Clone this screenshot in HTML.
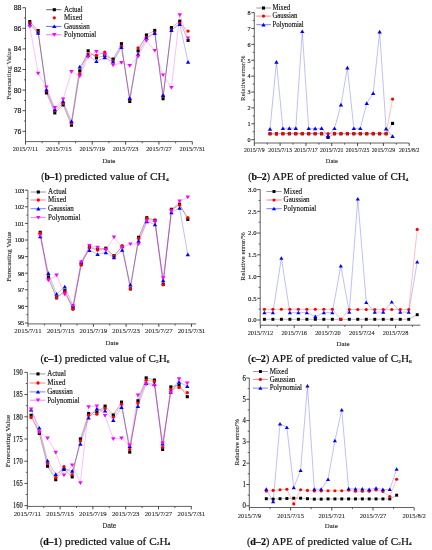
<!DOCTYPE html>
<html><head><meta charset="utf-8"><style>
html,body{margin:0;padding:0;background:#fff;width:432px;height:550px;overflow:hidden}
svg{display:block;filter:blur(0.35px)}
.t{stroke:#111;stroke-width:0.15px}
.c{stroke:#111;stroke-width:0.2px}
.t2{stroke:#222;stroke-width:0.1px}
.t3{stroke:#333;stroke-width:0.15px}
</style></head><body>
<svg width="432" height="550" viewBox="0 0 432 550">
<polyline points="29.80,21.60 38.13,30.60 46.46,92.90 54.79,112.90 63.12,104.90 71.45,125.20 79.78,70.80 88.11,50.80 96.44,57.90 104.77,55.60 113.10,59.10 121.43,43.70 129.76,101.50 138.09,50.80 146.42,35.00 154.75,30.40 163.08,98.70 171.41,27.60 179.74,21.20 188.07,40.40" fill="none" stroke="#000" stroke-width="0.5" stroke-opacity="0.5"/>
<polyline points="29.80,23.20 38.13,32.20 46.46,91.00 54.79,110.80 63.12,103.40 71.45,123.50 79.78,73.70 88.11,54.10 96.44,55.30 104.77,52.10 113.10,61.00 121.43,46.20 129.76,99.00 138.09,47.80 146.42,37.20 154.75,33.00 163.08,96.00 171.41,29.80 179.74,23.50 188.07,31.10" fill="none" stroke="#ff0000" stroke-width="0.5" stroke-opacity="0.5"/>
<polyline points="29.80,24.50 38.13,33.00 46.46,89.70 54.79,109.50 63.12,101.40 71.45,121.30 79.78,66.80 88.11,55.30 96.44,61.40 104.77,57.60 113.10,61.90 121.43,47.20 129.76,98.20 138.09,54.30 146.42,38.00 154.75,33.40 163.08,95.20 171.41,30.40 179.74,24.20 188.07,62.10" fill="none" stroke="#0000ff" stroke-width="0.5" stroke-opacity="0.5"/>
<polyline points="29.80,26.40 38.13,73.40 46.46,87.10 54.79,107.70 63.12,99.30 71.45,71.70 79.78,76.30 88.11,57.00 96.44,51.80 104.77,54.70 113.10,65.30 121.43,62.80 129.76,65.70 138.09,56.60 146.42,40.80 154.75,50.60 163.08,75.10 171.41,87.60 179.74,15.00 188.07,38.10" fill="none" stroke="#ff00ff" stroke-width="0.5" stroke-opacity="0.5"/>
<rect x="28.25" y="20.05" width="3.10" height="3.10" fill="#000"/>
<rect x="36.58" y="29.05" width="3.10" height="3.10" fill="#000"/>
<rect x="44.91" y="91.35" width="3.10" height="3.10" fill="#000"/>
<rect x="53.24" y="111.35" width="3.10" height="3.10" fill="#000"/>
<rect x="61.57" y="103.35" width="3.10" height="3.10" fill="#000"/>
<rect x="69.90" y="123.65" width="3.10" height="3.10" fill="#000"/>
<rect x="78.23" y="69.25" width="3.10" height="3.10" fill="#000"/>
<rect x="86.56" y="49.25" width="3.10" height="3.10" fill="#000"/>
<rect x="94.89" y="56.35" width="3.10" height="3.10" fill="#000"/>
<rect x="103.22" y="54.05" width="3.10" height="3.10" fill="#000"/>
<rect x="111.55" y="57.55" width="3.10" height="3.10" fill="#000"/>
<rect x="119.88" y="42.15" width="3.10" height="3.10" fill="#000"/>
<rect x="128.21" y="99.95" width="3.10" height="3.10" fill="#000"/>
<rect x="136.54" y="49.25" width="3.10" height="3.10" fill="#000"/>
<rect x="144.87" y="33.45" width="3.10" height="3.10" fill="#000"/>
<rect x="153.20" y="28.85" width="3.10" height="3.10" fill="#000"/>
<rect x="161.53" y="97.15" width="3.10" height="3.10" fill="#000"/>
<rect x="169.86" y="26.05" width="3.10" height="3.10" fill="#000"/>
<rect x="178.19" y="19.65" width="3.10" height="3.10" fill="#000"/>
<rect x="186.52" y="38.85" width="3.10" height="3.10" fill="#000"/>
<circle cx="29.80" cy="23.20" r="1.65" fill="#ff0000"/>
<circle cx="38.13" cy="32.20" r="1.65" fill="#ff0000"/>
<circle cx="46.46" cy="91.00" r="1.65" fill="#ff0000"/>
<circle cx="54.79" cy="110.80" r="1.65" fill="#ff0000"/>
<circle cx="63.12" cy="103.40" r="1.65" fill="#ff0000"/>
<circle cx="71.45" cy="123.50" r="1.65" fill="#ff0000"/>
<circle cx="79.78" cy="73.70" r="1.65" fill="#ff0000"/>
<circle cx="88.11" cy="54.10" r="1.65" fill="#ff0000"/>
<circle cx="96.44" cy="55.30" r="1.65" fill="#ff0000"/>
<circle cx="104.77" cy="52.10" r="1.65" fill="#ff0000"/>
<circle cx="113.10" cy="61.00" r="1.65" fill="#ff0000"/>
<circle cx="121.43" cy="46.20" r="1.65" fill="#ff0000"/>
<circle cx="129.76" cy="99.00" r="1.65" fill="#ff0000"/>
<circle cx="138.09" cy="47.80" r="1.65" fill="#ff0000"/>
<circle cx="146.42" cy="37.20" r="1.65" fill="#ff0000"/>
<circle cx="154.75" cy="33.00" r="1.65" fill="#ff0000"/>
<circle cx="163.08" cy="96.00" r="1.65" fill="#ff0000"/>
<circle cx="171.41" cy="29.80" r="1.65" fill="#ff0000"/>
<circle cx="179.74" cy="23.50" r="1.65" fill="#ff0000"/>
<circle cx="188.07" cy="31.10" r="1.65" fill="#ff0000"/>
<path d="M29.80 22.50L32.00 26.20L27.60 26.20Z" fill="#0000ff"/>
<path d="M38.13 31.00L40.33 34.70L35.93 34.70Z" fill="#0000ff"/>
<path d="M46.46 87.70L48.66 91.40L44.26 91.40Z" fill="#0000ff"/>
<path d="M54.79 107.50L56.99 111.20L52.59 111.20Z" fill="#0000ff"/>
<path d="M63.12 99.40L65.32 103.10L60.92 103.10Z" fill="#0000ff"/>
<path d="M71.45 119.30L73.65 123.00L69.25 123.00Z" fill="#0000ff"/>
<path d="M79.78 64.80L81.98 68.50L77.58 68.50Z" fill="#0000ff"/>
<path d="M88.11 53.30L90.31 57.00L85.91 57.00Z" fill="#0000ff"/>
<path d="M96.44 59.40L98.64 63.10L94.24 63.10Z" fill="#0000ff"/>
<path d="M104.77 55.60L106.97 59.30L102.57 59.30Z" fill="#0000ff"/>
<path d="M113.10 59.90L115.30 63.60L110.90 63.60Z" fill="#0000ff"/>
<path d="M121.43 45.20L123.63 48.90L119.23 48.90Z" fill="#0000ff"/>
<path d="M129.76 96.20L131.96 99.90L127.56 99.90Z" fill="#0000ff"/>
<path d="M138.09 52.30L140.29 56.00L135.89 56.00Z" fill="#0000ff"/>
<path d="M146.42 36.00L148.62 39.70L144.22 39.70Z" fill="#0000ff"/>
<path d="M154.75 31.40L156.95 35.10L152.55 35.10Z" fill="#0000ff"/>
<path d="M163.08 93.20L165.28 96.90L160.88 96.90Z" fill="#0000ff"/>
<path d="M171.41 28.40L173.61 32.10L169.21 32.10Z" fill="#0000ff"/>
<path d="M179.74 22.20L181.94 25.90L177.54 25.90Z" fill="#0000ff"/>
<path d="M188.07 60.10L190.27 63.80L185.87 63.80Z" fill="#0000ff"/>
<path d="M29.80 28.40L32.00 24.70L27.60 24.70Z" fill="#ff00ff"/>
<path d="M38.13 75.40L40.33 71.70L35.93 71.70Z" fill="#ff00ff"/>
<path d="M46.46 89.10L48.66 85.40L44.26 85.40Z" fill="#ff00ff"/>
<path d="M54.79 109.70L56.99 106.00L52.59 106.00Z" fill="#ff00ff"/>
<path d="M63.12 101.30L65.32 97.60L60.92 97.60Z" fill="#ff00ff"/>
<path d="M71.45 73.70L73.65 70.00L69.25 70.00Z" fill="#ff00ff"/>
<path d="M79.78 78.30L81.98 74.60L77.58 74.60Z" fill="#ff00ff"/>
<path d="M88.11 59.00L90.31 55.30L85.91 55.30Z" fill="#ff00ff"/>
<path d="M96.44 53.80L98.64 50.10L94.24 50.10Z" fill="#ff00ff"/>
<path d="M104.77 56.70L106.97 53.00L102.57 53.00Z" fill="#ff00ff"/>
<path d="M113.10 67.30L115.30 63.60L110.90 63.60Z" fill="#ff00ff"/>
<path d="M121.43 64.80L123.63 61.10L119.23 61.10Z" fill="#ff00ff"/>
<path d="M129.76 67.70L131.96 64.00L127.56 64.00Z" fill="#ff00ff"/>
<path d="M138.09 58.60L140.29 54.90L135.89 54.90Z" fill="#ff00ff"/>
<path d="M146.42 42.80L148.62 39.10L144.22 39.10Z" fill="#ff00ff"/>
<path d="M154.75 52.60L156.95 48.90L152.55 48.90Z" fill="#ff00ff"/>
<path d="M163.08 77.10L165.28 73.40L160.88 73.40Z" fill="#ff00ff"/>
<path d="M171.41 89.60L173.61 85.90L169.21 85.90Z" fill="#ff00ff"/>
<path d="M179.74 17.00L181.94 13.30L177.54 13.30Z" fill="#ff00ff"/>
<path d="M188.07 40.10L190.27 36.40L185.87 36.40Z" fill="#ff00ff"/>
<path d="M25.5 7.7V141.6H192.3" fill="none" stroke="#3a3a3a" stroke-width="0.8"/>
<path d="M22.5 131.30H25.5" stroke="#222" stroke-width="0.8"/>
<text x="21.5" y="133.80" text-anchor="end" font-family="'Liberation Sans', sans-serif" font-size="7" fill="#111" class="t">76</text>
<path d="M22.5 110.70H25.5" stroke="#222" stroke-width="0.8"/>
<text x="21.5" y="113.20" text-anchor="end" font-family="'Liberation Sans', sans-serif" font-size="7" fill="#111" class="t">78</text>
<path d="M22.5 90.10H25.5" stroke="#222" stroke-width="0.8"/>
<text x="21.5" y="92.60" text-anchor="end" font-family="'Liberation Sans', sans-serif" font-size="7" fill="#111" class="t">80</text>
<path d="M22.5 69.50H25.5" stroke="#222" stroke-width="0.8"/>
<text x="21.5" y="72.00" text-anchor="end" font-family="'Liberation Sans', sans-serif" font-size="7" fill="#111" class="t">82</text>
<path d="M22.5 48.90H25.5" stroke="#222" stroke-width="0.8"/>
<text x="21.5" y="51.40" text-anchor="end" font-family="'Liberation Sans', sans-serif" font-size="7" fill="#111" class="t">84</text>
<path d="M22.5 28.30H25.5" stroke="#222" stroke-width="0.8"/>
<text x="21.5" y="30.80" text-anchor="end" font-family="'Liberation Sans', sans-serif" font-size="7" fill="#111" class="t">86</text>
<path d="M22.5 7.70H25.5" stroke="#222" stroke-width="0.8"/>
<text x="21.5" y="10.20" text-anchor="end" font-family="'Liberation Sans', sans-serif" font-size="7" fill="#111" class="t">88</text>
<path d="M23.9 121.00H25.5" stroke="#222" stroke-width="0.7"/>
<path d="M23.9 100.40H25.5" stroke="#222" stroke-width="0.7"/>
<path d="M23.9 79.80H25.5" stroke="#222" stroke-width="0.7"/>
<path d="M23.9 59.20H25.5" stroke="#222" stroke-width="0.7"/>
<path d="M23.9 38.60H25.5" stroke="#222" stroke-width="0.7"/>
<path d="M23.9 18.00H25.5" stroke="#222" stroke-width="0.7"/>
<path d="M25.50 141.6V144.6" stroke="#222" stroke-width="0.8"/>
<text x="25.50" y="151.4" text-anchor="middle" font-family="'Liberation Serif', serif" font-size="6.3" fill="#222" class="t2">2015/7/11</text>
<path d="M58.86 141.6V144.6" stroke="#222" stroke-width="0.8"/>
<text x="58.86" y="151.4" text-anchor="middle" font-family="'Liberation Serif', serif" font-size="6.3" fill="#222" class="t2">2015/7/15</text>
<path d="M92.22 141.6V144.6" stroke="#222" stroke-width="0.8"/>
<text x="92.22" y="151.4" text-anchor="middle" font-family="'Liberation Serif', serif" font-size="6.3" fill="#222" class="t2">2015/7/19</text>
<path d="M125.58 141.6V144.6" stroke="#222" stroke-width="0.8"/>
<text x="125.58" y="151.4" text-anchor="middle" font-family="'Liberation Serif', serif" font-size="6.3" fill="#222" class="t2">2015/7/23</text>
<path d="M158.94 141.6V144.6" stroke="#222" stroke-width="0.8"/>
<text x="158.94" y="151.4" text-anchor="middle" font-family="'Liberation Serif', serif" font-size="6.3" fill="#222" class="t2">2015/7/27</text>
<path d="M192.30 141.6V144.6" stroke="#222" stroke-width="0.8"/>
<text x="192.30" y="151.4" text-anchor="middle" font-family="'Liberation Serif', serif" font-size="6.3" fill="#222" class="t2">2015/7/31</text>
<path d="M42.18 141.6V143.29999999999998" stroke="#222" stroke-width="0.7"/>
<path d="M75.54 141.6V143.29999999999998" stroke="#222" stroke-width="0.7"/>
<path d="M108.90 141.6V143.29999999999998" stroke="#222" stroke-width="0.7"/>
<path d="M142.26 141.6V143.29999999999998" stroke="#222" stroke-width="0.7"/>
<path d="M175.62 141.6V143.29999999999998" stroke="#222" stroke-width="0.7"/>
<text x="108.9" y="162.5" text-anchor="middle" font-family="'Liberation Serif', serif" font-size="6.9" fill="#222" class="t2">Date</text>
<text transform="translate(10.5,74.0) rotate(-90)" text-anchor="middle" font-family="'Liberation Serif', serif" font-size="6.9" fill="#555" class="t3" textLength="51.5" lengthAdjust="spacingAndGlyphs">Forecasting Value</text>
<path d="M46.2 9.7H61.4" stroke="#000" stroke-width="0.6"/>
<rect x="52.75" y="8.15" width="3.10" height="3.10" fill="#000"/>
<text x="64" y="12.1" font-family="'Liberation Serif', serif" font-size="7.56" fill="#111" class="t" textLength="18.66" lengthAdjust="spacingAndGlyphs">Actual</text>
<circle cx="54.30" cy="17.80" r="1.65" fill="#ff0000"/>
<text x="64" y="20.2" font-family="'Liberation Serif', serif" font-size="7.56" fill="#111" class="t" textLength="18.28" lengthAdjust="spacingAndGlyphs">Mixed</text>
<path d="M46.2 26.4H61.4" stroke="#0000ff" stroke-width="0.6"/>
<path d="M54.30 24.40L56.50 28.10L52.10 28.10Z" fill="#0000ff"/>
<text x="64" y="28.799999999999997" font-family="'Liberation Serif', serif" font-size="7.56" fill="#111" class="t" textLength="25.66" lengthAdjust="spacingAndGlyphs">Gaussian</text>
<path d="M46.2 34.8H61.4" stroke="#ff00ff" stroke-width="0.6"/>
<path d="M54.30 36.80L56.50 33.10L52.10 33.10Z" fill="#ff00ff"/>
<text x="64" y="37.199999999999996" font-family="'Liberation Serif', serif" font-size="7.56" fill="#111" class="t" textLength="32.28" lengthAdjust="spacingAndGlyphs">Polynomial</text>
<text x="41.3" y="180.2" font-family="'Liberation Serif', serif" font-size="10.6" fill="#111" class="c" textLength="20.6" lengthAdjust="spacingAndGlyphs">(<tspan font-weight="bold">b–1</tspan>)</text>
<text x="64.3" y="180.2" font-family="'Liberation Serif', serif" font-size="10.6" fill="#111" class="c" textLength="104.3" lengthAdjust="spacingAndGlyphs">predicted value of CH<tspan font-size="5" dy="0.6">4</tspan></text>
<polyline points="270.00,133.80 276.45,133.80 282.90,133.80 289.35,133.80 295.80,133.80 302.25,133.80 308.70,133.80 315.15,133.80 321.60,133.80 328.05,137.40 334.50,133.80 340.95,133.80 347.40,133.80 353.85,133.80 360.30,133.80 366.75,133.80 373.20,133.80 379.65,133.80 386.10,133.80 392.55,123.40" fill="none" stroke="#000" stroke-width="0.5" stroke-opacity="0.5"/>
<polyline points="270.00,133.70 276.45,134.00 282.90,133.50 289.35,133.40 295.80,133.50 302.25,133.40 308.70,133.60 315.15,133.60 321.60,133.50 328.05,133.60 334.50,133.50 340.95,133.60 347.40,133.40 353.85,133.60 360.30,133.60 366.75,133.60 373.20,133.50 379.65,133.60 386.10,133.60 392.55,99.10" fill="none" stroke="#ff0000" stroke-width="0.5" stroke-opacity="0.5"/>
<polyline points="270.00,129.10 276.45,62.00 282.90,128.40 289.35,128.20 295.80,128.20 302.25,31.40 308.70,128.40 315.15,128.60 321.60,128.20 328.05,136.10 334.50,128.40 340.95,104.80 347.40,67.70 353.85,128.40 360.30,128.40 366.75,103.20 373.20,93.20 379.65,31.80 386.10,128.70 392.55,136.30" fill="none" stroke="#0000ff" stroke-width="0.5" stroke-opacity="0.5"/>
<rect x="268.45" y="132.25" width="3.10" height="3.10" fill="#000"/>
<rect x="274.90" y="132.25" width="3.10" height="3.10" fill="#000"/>
<rect x="281.35" y="132.25" width="3.10" height="3.10" fill="#000"/>
<rect x="287.80" y="132.25" width="3.10" height="3.10" fill="#000"/>
<rect x="294.25" y="132.25" width="3.10" height="3.10" fill="#000"/>
<rect x="300.70" y="132.25" width="3.10" height="3.10" fill="#000"/>
<rect x="307.15" y="132.25" width="3.10" height="3.10" fill="#000"/>
<rect x="313.60" y="132.25" width="3.10" height="3.10" fill="#000"/>
<rect x="320.05" y="132.25" width="3.10" height="3.10" fill="#000"/>
<rect x="326.50" y="135.85" width="3.10" height="3.10" fill="#000"/>
<rect x="332.95" y="132.25" width="3.10" height="3.10" fill="#000"/>
<rect x="339.40" y="132.25" width="3.10" height="3.10" fill="#000"/>
<rect x="345.85" y="132.25" width="3.10" height="3.10" fill="#000"/>
<rect x="352.30" y="132.25" width="3.10" height="3.10" fill="#000"/>
<rect x="358.75" y="132.25" width="3.10" height="3.10" fill="#000"/>
<rect x="365.20" y="132.25" width="3.10" height="3.10" fill="#000"/>
<rect x="371.65" y="132.25" width="3.10" height="3.10" fill="#000"/>
<rect x="378.10" y="132.25" width="3.10" height="3.10" fill="#000"/>
<rect x="384.55" y="132.25" width="3.10" height="3.10" fill="#000"/>
<rect x="391.00" y="121.85" width="3.10" height="3.10" fill="#000"/>
<circle cx="270.00" cy="133.70" r="1.65" fill="#ff0000"/>
<circle cx="276.45" cy="134.00" r="1.65" fill="#ff0000"/>
<circle cx="282.90" cy="133.50" r="1.65" fill="#ff0000"/>
<circle cx="289.35" cy="133.40" r="1.65" fill="#ff0000"/>
<circle cx="295.80" cy="133.50" r="1.65" fill="#ff0000"/>
<circle cx="302.25" cy="133.40" r="1.65" fill="#ff0000"/>
<circle cx="308.70" cy="133.60" r="1.65" fill="#ff0000"/>
<circle cx="315.15" cy="133.60" r="1.65" fill="#ff0000"/>
<circle cx="321.60" cy="133.50" r="1.65" fill="#ff0000"/>
<circle cx="328.05" cy="133.60" r="1.65" fill="#ff0000"/>
<circle cx="334.50" cy="133.50" r="1.65" fill="#ff0000"/>
<circle cx="340.95" cy="133.60" r="1.65" fill="#ff0000"/>
<circle cx="347.40" cy="133.40" r="1.65" fill="#ff0000"/>
<circle cx="353.85" cy="133.60" r="1.65" fill="#ff0000"/>
<circle cx="360.30" cy="133.60" r="1.65" fill="#ff0000"/>
<circle cx="366.75" cy="133.60" r="1.65" fill="#ff0000"/>
<circle cx="373.20" cy="133.50" r="1.65" fill="#ff0000"/>
<circle cx="379.65" cy="133.60" r="1.65" fill="#ff0000"/>
<circle cx="386.10" cy="133.60" r="1.65" fill="#ff0000"/>
<circle cx="392.55" cy="99.10" r="1.65" fill="#ff0000"/>
<path d="M270.00 127.10L272.20 130.80L267.80 130.80Z" fill="#0000ff"/>
<path d="M276.45 60.00L278.65 63.70L274.25 63.70Z" fill="#0000ff"/>
<path d="M282.90 126.40L285.10 130.10L280.70 130.10Z" fill="#0000ff"/>
<path d="M289.35 126.20L291.55 129.90L287.15 129.90Z" fill="#0000ff"/>
<path d="M295.80 126.20L298.00 129.90L293.60 129.90Z" fill="#0000ff"/>
<path d="M302.25 29.40L304.45 33.10L300.05 33.10Z" fill="#0000ff"/>
<path d="M308.70 126.40L310.90 130.10L306.50 130.10Z" fill="#0000ff"/>
<path d="M315.15 126.60L317.35 130.30L312.95 130.30Z" fill="#0000ff"/>
<path d="M321.60 126.20L323.80 129.90L319.40 129.90Z" fill="#0000ff"/>
<path d="M328.05 134.10L330.25 137.80L325.85 137.80Z" fill="#0000ff"/>
<path d="M334.50 126.40L336.70 130.10L332.30 130.10Z" fill="#0000ff"/>
<path d="M340.95 102.80L343.15 106.50L338.75 106.50Z" fill="#0000ff"/>
<path d="M347.40 65.70L349.60 69.40L345.20 69.40Z" fill="#0000ff"/>
<path d="M353.85 126.40L356.05 130.10L351.65 130.10Z" fill="#0000ff"/>
<path d="M360.30 126.40L362.50 130.10L358.10 130.10Z" fill="#0000ff"/>
<path d="M366.75 101.20L368.95 104.90L364.55 104.90Z" fill="#0000ff"/>
<path d="M373.20 91.20L375.40 94.90L371.00 94.90Z" fill="#0000ff"/>
<path d="M379.65 29.80L381.85 33.50L377.45 33.50Z" fill="#0000ff"/>
<path d="M386.10 126.70L388.30 130.40L383.90 130.40Z" fill="#0000ff"/>
<path d="M392.55 134.30L394.75 138.00L390.35 138.00Z" fill="#0000ff"/>
<path d="M254.3 12.6V143.0H409.2" fill="none" stroke="#3a3a3a" stroke-width="0.8"/>
<path d="M251.3 139.70H254.3" stroke="#222" stroke-width="0.8"/>
<text x="250.5" y="142.00" text-anchor="end" font-family="'Liberation Serif', serif" font-size="6.8" fill="#111" class="t" textLength="3.10" lengthAdjust="spacingAndGlyphs">0</text>
<path d="M251.3 123.81H254.3" stroke="#222" stroke-width="0.8"/>
<text x="250.5" y="126.11" text-anchor="end" font-family="'Liberation Serif', serif" font-size="6.8" fill="#111" class="t" textLength="3.10" lengthAdjust="spacingAndGlyphs">1</text>
<path d="M251.3 107.92H254.3" stroke="#222" stroke-width="0.8"/>
<text x="250.5" y="110.22" text-anchor="end" font-family="'Liberation Serif', serif" font-size="6.8" fill="#111" class="t" textLength="3.10" lengthAdjust="spacingAndGlyphs">2</text>
<path d="M251.3 92.04H254.3" stroke="#222" stroke-width="0.8"/>
<text x="250.5" y="94.34" text-anchor="end" font-family="'Liberation Serif', serif" font-size="6.8" fill="#111" class="t" textLength="3.10" lengthAdjust="spacingAndGlyphs">3</text>
<path d="M251.3 76.15H254.3" stroke="#222" stroke-width="0.8"/>
<text x="250.5" y="78.45" text-anchor="end" font-family="'Liberation Serif', serif" font-size="6.8" fill="#111" class="t" textLength="3.10" lengthAdjust="spacingAndGlyphs">4</text>
<path d="M251.3 60.26H254.3" stroke="#222" stroke-width="0.8"/>
<text x="250.5" y="62.56" text-anchor="end" font-family="'Liberation Serif', serif" font-size="6.8" fill="#111" class="t" textLength="3.10" lengthAdjust="spacingAndGlyphs">5</text>
<path d="M251.3 44.38H254.3" stroke="#222" stroke-width="0.8"/>
<text x="250.5" y="46.67" text-anchor="end" font-family="'Liberation Serif', serif" font-size="6.8" fill="#111" class="t" textLength="3.10" lengthAdjust="spacingAndGlyphs">6</text>
<path d="M251.3 28.49H254.3" stroke="#222" stroke-width="0.8"/>
<text x="250.5" y="30.79" text-anchor="end" font-family="'Liberation Serif', serif" font-size="6.8" fill="#111" class="t" textLength="3.10" lengthAdjust="spacingAndGlyphs">7</text>
<path d="M251.3 12.60H254.3" stroke="#222" stroke-width="0.8"/>
<text x="250.5" y="14.90" text-anchor="end" font-family="'Liberation Serif', serif" font-size="6.8" fill="#111" class="t" textLength="3.10" lengthAdjust="spacingAndGlyphs">8</text>
<path d="M252.70000000000002 131.76H254.3" stroke="#222" stroke-width="0.7"/>
<path d="M252.70000000000002 115.87H254.3" stroke="#222" stroke-width="0.7"/>
<path d="M252.70000000000002 99.98H254.3" stroke="#222" stroke-width="0.7"/>
<path d="M252.70000000000002 84.09H254.3" stroke="#222" stroke-width="0.7"/>
<path d="M252.70000000000002 68.21H254.3" stroke="#222" stroke-width="0.7"/>
<path d="M252.70000000000002 52.32H254.3" stroke="#222" stroke-width="0.7"/>
<path d="M252.70000000000002 36.43H254.3" stroke="#222" stroke-width="0.7"/>
<path d="M252.70000000000002 20.54H254.3" stroke="#222" stroke-width="0.7"/>
<path d="M254.30 143.0V146.0" stroke="#222" stroke-width="0.8"/>
<text x="254.30" y="152.4" text-anchor="middle" font-family="'Liberation Serif', serif" font-size="5.8" fill="#222" class="t2">2015/7/9</text>
<path d="M280.12 143.0V146.0" stroke="#222" stroke-width="0.8"/>
<text x="280.12" y="152.4" text-anchor="middle" font-family="'Liberation Serif', serif" font-size="5.8" fill="#222" class="t2">2015/7/13</text>
<path d="M305.94 143.0V146.0" stroke="#222" stroke-width="0.8"/>
<text x="305.94" y="152.4" text-anchor="middle" font-family="'Liberation Serif', serif" font-size="5.8" fill="#222" class="t2">2015/7/17</text>
<path d="M331.76 143.0V146.0" stroke="#222" stroke-width="0.8"/>
<text x="331.76" y="152.4" text-anchor="middle" font-family="'Liberation Serif', serif" font-size="5.8" fill="#222" class="t2">2015/7/21</text>
<path d="M357.58 143.0V146.0" stroke="#222" stroke-width="0.8"/>
<text x="357.58" y="152.4" text-anchor="middle" font-family="'Liberation Serif', serif" font-size="5.8" fill="#222" class="t2">2015/7/25</text>
<path d="M383.40 143.0V146.0" stroke="#222" stroke-width="0.8"/>
<text x="383.40" y="152.4" text-anchor="middle" font-family="'Liberation Serif', serif" font-size="5.8" fill="#222" class="t2">2015/7/29</text>
<path d="M409.22 143.0V146.0" stroke="#222" stroke-width="0.8"/>
<text x="409.22" y="152.4" text-anchor="middle" font-family="'Liberation Serif', serif" font-size="5.8" fill="#222" class="t2">2015/8/2</text>
<path d="M267.21 143.0V144.7" stroke="#222" stroke-width="0.7"/>
<path d="M293.03 143.0V144.7" stroke="#222" stroke-width="0.7"/>
<path d="M318.85 143.0V144.7" stroke="#222" stroke-width="0.7"/>
<path d="M344.67 143.0V144.7" stroke="#222" stroke-width="0.7"/>
<path d="M370.49 143.0V144.7" stroke="#222" stroke-width="0.7"/>
<path d="M396.31 143.0V144.7" stroke="#222" stroke-width="0.7"/>
<text x="331.8" y="162.8" text-anchor="middle" font-family="'Liberation Serif', serif" font-size="6.3" fill="#222" class="t2">Date</text>
<text transform="translate(244.5,78.2) rotate(-90)" text-anchor="middle" font-family="'Liberation Serif', serif" font-size="6.6" fill="#555" class="t3" textLength="45.4" lengthAdjust="spacingAndGlyphs">Relative error/%</text>
<path d="M256.3 8H270.9" stroke="#555" stroke-width="0.6"/>
<rect x="261.95" y="6.45" width="3.10" height="3.10" fill="#000"/>
<text x="272.4" y="10.3" font-family="'Liberation Serif', serif" font-size="7.34" fill="#111" class="t" textLength="17.75" lengthAdjust="spacingAndGlyphs">Mixed</text>
<path d="M256.3 16.1H270.9" stroke="#ff0000" stroke-width="0.5"/>
<circle cx="263.50" cy="16.10" r="1.65" fill="#ff0000"/>
<text x="272.4" y="18.400000000000002" font-family="'Liberation Serif', serif" font-size="7.34" fill="#111" class="t" textLength="24.93" lengthAdjust="spacingAndGlyphs">Gaussian</text>
<path d="M256.3 24.7H270.9" stroke="#0000ff" stroke-width="0.5"/>
<path d="M263.50 22.70L265.70 26.40L261.30 26.40Z" fill="#0000ff"/>
<text x="272.4" y="27.0" font-family="'Liberation Serif', serif" font-size="7.34" fill="#111" class="t" textLength="31.36" lengthAdjust="spacingAndGlyphs">Polynomial</text>
<text x="248.2" y="180.2" font-family="'Liberation Serif', serif" font-size="10.6" fill="#111" class="c" textLength="21.900000000000034" lengthAdjust="spacingAndGlyphs">(<tspan font-weight="bold">b–2</tspan>)</text>
<text x="272.6" y="180.2" font-family="'Liberation Serif', serif" font-size="10.6" fill="#111" class="c" textLength="135.7" lengthAdjust="spacingAndGlyphs">APE of predicted value of CH<tspan font-size="5" dy="0.6">4</tspan></text>
<polyline points="40.20,232.30 48.40,277.00 56.60,297.80 64.80,290.70 73.00,308.50 81.20,264.40 89.40,246.90 97.60,249.30 105.80,248.20 114.00,255.80 122.20,246.70 130.40,288.90 138.60,237.30 146.80,217.70 155.00,220.20 163.20,284.30 171.40,209.30 179.60,204.20 187.80,219.40" fill="none" stroke="#000" stroke-width="0.5" stroke-opacity="0.5"/>
<polyline points="40.20,233.20 48.40,278.90 56.60,297.80 64.80,291.90 73.00,309.30 81.20,265.00 89.40,247.80 97.60,250.00 105.80,249.00 114.00,256.50 122.20,245.60 130.40,288.90 138.60,238.50 146.80,218.50 155.00,221.00 163.20,284.80 171.40,210.00 179.60,205.00 187.80,217.70" fill="none" stroke="#ff0000" stroke-width="0.5" stroke-opacity="0.5"/>
<polyline points="40.20,236.50 48.40,273.30 56.60,294.10 64.80,286.70 73.00,305.60 81.20,261.70 89.40,250.20 97.60,254.30 105.80,252.50 114.00,257.60 122.20,250.00 130.40,284.80 138.60,241.00 146.80,221.50 155.00,224.50 163.20,280.50 171.40,212.60 179.60,208.00 187.80,254.60" fill="none" stroke="#0000ff" stroke-width="0.5" stroke-opacity="0.5"/>
<polyline points="40.20,235.60 48.40,280.20 56.60,275.20 64.80,294.40 73.00,306.10 81.20,262.20 89.40,245.60 97.60,247.40 105.80,250.00 114.00,237.30 122.20,247.50 130.40,244.10 138.60,244.10 146.80,221.20 155.00,221.50 163.20,278.00 171.40,211.00 179.60,201.10 187.80,197.30" fill="none" stroke="#ff00ff" stroke-width="0.5" stroke-opacity="0.5"/>
<rect x="38.65" y="230.75" width="3.10" height="3.10" fill="#000"/>
<rect x="46.85" y="275.45" width="3.10" height="3.10" fill="#000"/>
<rect x="55.05" y="296.25" width="3.10" height="3.10" fill="#000"/>
<rect x="63.25" y="289.15" width="3.10" height="3.10" fill="#000"/>
<rect x="71.45" y="306.95" width="3.10" height="3.10" fill="#000"/>
<rect x="79.65" y="262.85" width="3.10" height="3.10" fill="#000"/>
<rect x="87.85" y="245.35" width="3.10" height="3.10" fill="#000"/>
<rect x="96.05" y="247.75" width="3.10" height="3.10" fill="#000"/>
<rect x="104.25" y="246.65" width="3.10" height="3.10" fill="#000"/>
<rect x="112.45" y="254.25" width="3.10" height="3.10" fill="#000"/>
<rect x="120.65" y="245.15" width="3.10" height="3.10" fill="#000"/>
<rect x="128.85" y="287.35" width="3.10" height="3.10" fill="#000"/>
<rect x="137.05" y="235.75" width="3.10" height="3.10" fill="#000"/>
<rect x="145.25" y="216.15" width="3.10" height="3.10" fill="#000"/>
<rect x="153.45" y="218.65" width="3.10" height="3.10" fill="#000"/>
<rect x="161.65" y="282.75" width="3.10" height="3.10" fill="#000"/>
<rect x="169.85" y="207.75" width="3.10" height="3.10" fill="#000"/>
<rect x="178.05" y="202.65" width="3.10" height="3.10" fill="#000"/>
<rect x="186.25" y="217.85" width="3.10" height="3.10" fill="#000"/>
<circle cx="40.20" cy="233.20" r="1.65" fill="#ff0000"/>
<circle cx="48.40" cy="278.90" r="1.65" fill="#ff0000"/>
<circle cx="56.60" cy="297.80" r="1.65" fill="#ff0000"/>
<circle cx="64.80" cy="291.90" r="1.65" fill="#ff0000"/>
<circle cx="73.00" cy="309.30" r="1.65" fill="#ff0000"/>
<circle cx="81.20" cy="265.00" r="1.65" fill="#ff0000"/>
<circle cx="89.40" cy="247.80" r="1.65" fill="#ff0000"/>
<circle cx="97.60" cy="250.00" r="1.65" fill="#ff0000"/>
<circle cx="105.80" cy="249.00" r="1.65" fill="#ff0000"/>
<circle cx="114.00" cy="256.50" r="1.65" fill="#ff0000"/>
<circle cx="122.20" cy="245.60" r="1.65" fill="#ff0000"/>
<circle cx="130.40" cy="288.90" r="1.65" fill="#ff0000"/>
<circle cx="138.60" cy="238.50" r="1.65" fill="#ff0000"/>
<circle cx="146.80" cy="218.50" r="1.65" fill="#ff0000"/>
<circle cx="155.00" cy="221.00" r="1.65" fill="#ff0000"/>
<circle cx="163.20" cy="284.80" r="1.65" fill="#ff0000"/>
<circle cx="171.40" cy="210.00" r="1.65" fill="#ff0000"/>
<circle cx="179.60" cy="205.00" r="1.65" fill="#ff0000"/>
<circle cx="187.80" cy="217.70" r="1.65" fill="#ff0000"/>
<path d="M40.20 234.50L42.40 238.20L38.00 238.20Z" fill="#0000ff"/>
<path d="M48.40 271.30L50.60 275.00L46.20 275.00Z" fill="#0000ff"/>
<path d="M56.60 292.10L58.80 295.80L54.40 295.80Z" fill="#0000ff"/>
<path d="M64.80 284.70L67.00 288.40L62.60 288.40Z" fill="#0000ff"/>
<path d="M73.00 303.60L75.20 307.30L70.80 307.30Z" fill="#0000ff"/>
<path d="M81.20 259.70L83.40 263.40L79.00 263.40Z" fill="#0000ff"/>
<path d="M89.40 248.20L91.60 251.90L87.20 251.90Z" fill="#0000ff"/>
<path d="M97.60 252.30L99.80 256.00L95.40 256.00Z" fill="#0000ff"/>
<path d="M105.80 250.50L108.00 254.20L103.60 254.20Z" fill="#0000ff"/>
<path d="M114.00 255.60L116.20 259.30L111.80 259.30Z" fill="#0000ff"/>
<path d="M122.20 248.00L124.40 251.70L120.00 251.70Z" fill="#0000ff"/>
<path d="M130.40 282.80L132.60 286.50L128.20 286.50Z" fill="#0000ff"/>
<path d="M138.60 239.00L140.80 242.70L136.40 242.70Z" fill="#0000ff"/>
<path d="M146.80 219.50L149.00 223.20L144.60 223.20Z" fill="#0000ff"/>
<path d="M155.00 222.50L157.20 226.20L152.80 226.20Z" fill="#0000ff"/>
<path d="M163.20 278.50L165.40 282.20L161.00 282.20Z" fill="#0000ff"/>
<path d="M171.40 210.60L173.60 214.30L169.20 214.30Z" fill="#0000ff"/>
<path d="M179.60 206.00L181.80 209.70L177.40 209.70Z" fill="#0000ff"/>
<path d="M187.80 252.60L190.00 256.30L185.60 256.30Z" fill="#0000ff"/>
<path d="M40.20 237.60L42.40 233.90L38.00 233.90Z" fill="#ff00ff"/>
<path d="M48.40 282.20L50.60 278.50L46.20 278.50Z" fill="#ff00ff"/>
<path d="M56.60 277.20L58.80 273.50L54.40 273.50Z" fill="#ff00ff"/>
<path d="M64.80 296.40L67.00 292.70L62.60 292.70Z" fill="#ff00ff"/>
<path d="M73.00 308.10L75.20 304.40L70.80 304.40Z" fill="#ff00ff"/>
<path d="M81.20 264.20L83.40 260.50L79.00 260.50Z" fill="#ff00ff"/>
<path d="M89.40 247.60L91.60 243.90L87.20 243.90Z" fill="#ff00ff"/>
<path d="M97.60 249.40L99.80 245.70L95.40 245.70Z" fill="#ff00ff"/>
<path d="M105.80 252.00L108.00 248.30L103.60 248.30Z" fill="#ff00ff"/>
<path d="M114.00 239.30L116.20 235.60L111.80 235.60Z" fill="#ff00ff"/>
<path d="M122.20 249.50L124.40 245.80L120.00 245.80Z" fill="#ff00ff"/>
<path d="M130.40 246.10L132.60 242.40L128.20 242.40Z" fill="#ff00ff"/>
<path d="M138.60 246.10L140.80 242.40L136.40 242.40Z" fill="#ff00ff"/>
<path d="M146.80 223.20L149.00 219.50L144.60 219.50Z" fill="#ff00ff"/>
<path d="M155.00 223.50L157.20 219.80L152.80 219.80Z" fill="#ff00ff"/>
<path d="M163.20 280.00L165.40 276.30L161.00 276.30Z" fill="#ff00ff"/>
<path d="M171.40 213.00L173.60 209.30L169.20 209.30Z" fill="#ff00ff"/>
<path d="M179.60 203.10L181.80 199.40L177.40 199.40Z" fill="#ff00ff"/>
<path d="M187.80 199.30L190.00 195.60L185.60 195.60Z" fill="#ff00ff"/>
<path d="M27.9 190.2V323.9H196.2" fill="none" stroke="#3a3a3a" stroke-width="0.8"/>
<path d="M24.9 323.00H27.9" stroke="#222" stroke-width="0.8"/>
<text x="24.2" y="325.40" text-anchor="end" font-family="'Liberation Serif', serif" font-size="7.0" fill="#111" class="t" textLength="6.30" lengthAdjust="spacingAndGlyphs">95</text>
<path d="M24.9 306.40H27.9" stroke="#222" stroke-width="0.8"/>
<text x="24.2" y="308.80" text-anchor="end" font-family="'Liberation Serif', serif" font-size="7.0" fill="#111" class="t" textLength="6.30" lengthAdjust="spacingAndGlyphs">96</text>
<path d="M24.9 289.80H27.9" stroke="#222" stroke-width="0.8"/>
<text x="24.2" y="292.20" text-anchor="end" font-family="'Liberation Serif', serif" font-size="7.0" fill="#111" class="t" textLength="6.30" lengthAdjust="spacingAndGlyphs">97</text>
<path d="M24.9 273.20H27.9" stroke="#222" stroke-width="0.8"/>
<text x="24.2" y="275.60" text-anchor="end" font-family="'Liberation Serif', serif" font-size="7.0" fill="#111" class="t" textLength="6.30" lengthAdjust="spacingAndGlyphs">98</text>
<path d="M24.9 256.60H27.9" stroke="#222" stroke-width="0.8"/>
<text x="24.2" y="259.00" text-anchor="end" font-family="'Liberation Serif', serif" font-size="7.0" fill="#111" class="t" textLength="6.30" lengthAdjust="spacingAndGlyphs">99</text>
<path d="M24.9 240.00H27.9" stroke="#222" stroke-width="0.8"/>
<text x="24.2" y="242.40" text-anchor="end" font-family="'Liberation Serif', serif" font-size="7.0" fill="#111" class="t" textLength="9.45" lengthAdjust="spacingAndGlyphs">100</text>
<path d="M24.9 223.40H27.9" stroke="#222" stroke-width="0.8"/>
<text x="24.2" y="225.80" text-anchor="end" font-family="'Liberation Serif', serif" font-size="7.0" fill="#111" class="t" textLength="9.45" lengthAdjust="spacingAndGlyphs">101</text>
<path d="M24.9 206.80H27.9" stroke="#222" stroke-width="0.8"/>
<text x="24.2" y="209.20" text-anchor="end" font-family="'Liberation Serif', serif" font-size="7.0" fill="#111" class="t" textLength="9.45" lengthAdjust="spacingAndGlyphs">102</text>
<path d="M24.9 190.20H27.9" stroke="#222" stroke-width="0.8"/>
<text x="24.2" y="192.60" text-anchor="end" font-family="'Liberation Serif', serif" font-size="7.0" fill="#111" class="t" textLength="9.45" lengthAdjust="spacingAndGlyphs">103</text>
<path d="M26.299999999999997 314.70H27.9" stroke="#222" stroke-width="0.7"/>
<path d="M26.299999999999997 298.10H27.9" stroke="#222" stroke-width="0.7"/>
<path d="M26.299999999999997 281.50H27.9" stroke="#222" stroke-width="0.7"/>
<path d="M26.299999999999997 264.90H27.9" stroke="#222" stroke-width="0.7"/>
<path d="M26.299999999999997 248.30H27.9" stroke="#222" stroke-width="0.7"/>
<path d="M26.299999999999997 231.70H27.9" stroke="#222" stroke-width="0.7"/>
<path d="M26.299999999999997 215.10H27.9" stroke="#222" stroke-width="0.7"/>
<path d="M26.299999999999997 198.50H27.9" stroke="#222" stroke-width="0.7"/>
<path d="M28.00 323.9V326.9" stroke="#222" stroke-width="0.8"/>
<text x="28.00" y="333.2" text-anchor="middle" font-family="'Liberation Serif', serif" font-size="6.8" fill="#222" class="t2">2015/7/11</text>
<path d="M60.70 323.9V326.9" stroke="#222" stroke-width="0.8"/>
<text x="60.70" y="333.2" text-anchor="middle" font-family="'Liberation Serif', serif" font-size="6.8" fill="#222" class="t2">2015/7/15</text>
<path d="M93.40 323.9V326.9" stroke="#222" stroke-width="0.8"/>
<text x="93.40" y="333.2" text-anchor="middle" font-family="'Liberation Serif', serif" font-size="6.8" fill="#222" class="t2">2015/7/19</text>
<path d="M126.10 323.9V326.9" stroke="#222" stroke-width="0.8"/>
<text x="126.10" y="333.2" text-anchor="middle" font-family="'Liberation Serif', serif" font-size="6.8" fill="#222" class="t2">2015/7/23</text>
<path d="M158.80 323.9V326.9" stroke="#222" stroke-width="0.8"/>
<text x="158.80" y="333.2" text-anchor="middle" font-family="'Liberation Serif', serif" font-size="6.8" fill="#222" class="t2">2015/7/27</text>
<path d="M191.50 323.9V326.9" stroke="#222" stroke-width="0.8"/>
<text x="191.50" y="333.2" text-anchor="middle" font-family="'Liberation Serif', serif" font-size="6.8" fill="#222" class="t2">2015/7/31</text>
<path d="M44.35 323.9V325.59999999999997" stroke="#222" stroke-width="0.7"/>
<path d="M77.05 323.9V325.59999999999997" stroke="#222" stroke-width="0.7"/>
<path d="M109.75 323.9V325.59999999999997" stroke="#222" stroke-width="0.7"/>
<path d="M142.45 323.9V325.59999999999997" stroke="#222" stroke-width="0.7"/>
<path d="M175.15 323.9V325.59999999999997" stroke="#222" stroke-width="0.7"/>
<text x="112.1" y="345" text-anchor="middle" font-family="'Liberation Serif', serif" font-size="6.9" fill="#222" class="t2">Date</text>
<text transform="translate(11.2,256.7) rotate(-90)" text-anchor="middle" font-family="'Liberation Serif', serif" font-size="7.0" fill="#333" class="t3" textLength="50" lengthAdjust="spacingAndGlyphs">Forecasting Value</text>
<path d="M30.6 192H45.9" stroke="#555" stroke-width="0.6"/>
<rect x="36.75" y="190.45" width="3.10" height="3.10" fill="#000"/>
<text x="48.1" y="194.4" font-family="'Liberation Serif', serif" font-size="7.56" fill="#111" class="t" textLength="18.66" lengthAdjust="spacingAndGlyphs">Actual</text>
<path d="M30.6 200H45.9" stroke="#ff0000" stroke-width="0.5"/>
<circle cx="38.30" cy="200.00" r="1.65" fill="#ff0000"/>
<text x="48.1" y="202.4" font-family="'Liberation Serif', serif" font-size="7.56" fill="#111" class="t" textLength="18.28" lengthAdjust="spacingAndGlyphs">Mixed</text>
<path d="M30.6 208.7H45.9" stroke="#0000ff" stroke-width="0.5"/>
<path d="M38.30 206.70L40.50 210.40L36.10 210.40Z" fill="#0000ff"/>
<text x="48.1" y="211.1" font-family="'Liberation Serif', serif" font-size="7.56" fill="#111" class="t" textLength="25.66" lengthAdjust="spacingAndGlyphs">Gaussian</text>
<path d="M30.6 217.6H45.9" stroke="#ff00ff" stroke-width="0.5"/>
<path d="M38.30 219.60L40.50 215.90L36.10 215.90Z" fill="#ff00ff"/>
<text x="48.1" y="220.0" font-family="'Liberation Serif', serif" font-size="7.56" fill="#111" class="t" textLength="32.28" lengthAdjust="spacingAndGlyphs">Polynomial</text>
<text x="40.4" y="362.3" font-family="'Liberation Serif', serif" font-size="10.6" fill="#111" class="c" textLength="21.6" lengthAdjust="spacingAndGlyphs">(<tspan font-weight="bold">c–1</tspan>)</text>
<text x="64.7" y="362.3" font-family="'Liberation Serif', serif" font-size="10.6" fill="#111" class="c" textLength="104.7" lengthAdjust="spacingAndGlyphs">predicted value of C<tspan font-size="5" dy="0.6">2</tspan><tspan dy="-0.6">H</tspan><tspan font-size="5" dy="0.6">6</tspan></text>
<polyline points="264.40,319.30 272.89,319.30 281.38,319.30 289.87,319.30 298.36,319.30 306.85,319.30 315.34,319.30 323.83,319.30 332.32,319.30 340.81,319.30 349.30,319.30 357.79,319.30 366.28,319.30 374.77,319.30 383.26,319.30 391.75,319.30 400.24,319.30 408.73,319.30 417.22,314.70" fill="none" stroke="#000" stroke-width="0.5" stroke-opacity="0.5"/>
<polyline points="264.40,309.30 272.89,309.30 281.38,309.30 289.87,309.30 298.36,309.30 306.85,309.30 315.34,309.30 323.83,309.30 332.32,309.30 340.81,319.30 349.30,309.50 357.79,309.50 366.28,309.50 374.77,309.50 383.26,309.50 391.75,309.50 400.24,309.50 408.73,309.50 417.22,229.40" fill="none" stroke="#ff0000" stroke-width="0.5" stroke-opacity="0.5"/>
<polyline points="264.40,312.60 272.89,312.60 281.38,258.20 289.87,312.60 298.36,312.60 306.85,312.60 315.34,316.50 323.83,312.60 332.32,312.60 340.81,265.80 349.30,312.10 357.79,198.90 366.28,302.50 374.77,312.10 383.26,312.10 391.75,302.00 400.24,312.10 408.73,312.10 417.22,261.80" fill="none" stroke="#0000ff" stroke-width="0.5" stroke-opacity="0.5"/>
<rect x="262.93" y="317.83" width="2.94" height="2.94" fill="#000"/>
<rect x="271.42" y="317.83" width="2.94" height="2.94" fill="#000"/>
<rect x="279.91" y="317.83" width="2.94" height="2.94" fill="#000"/>
<rect x="288.40" y="317.83" width="2.94" height="2.94" fill="#000"/>
<rect x="296.89" y="317.83" width="2.94" height="2.94" fill="#000"/>
<rect x="305.38" y="317.83" width="2.94" height="2.94" fill="#000"/>
<rect x="313.87" y="317.83" width="2.94" height="2.94" fill="#000"/>
<rect x="322.36" y="317.83" width="2.94" height="2.94" fill="#000"/>
<rect x="330.85" y="317.83" width="2.94" height="2.94" fill="#000"/>
<rect x="339.34" y="317.83" width="2.94" height="2.94" fill="#000"/>
<rect x="347.83" y="317.83" width="2.94" height="2.94" fill="#000"/>
<rect x="356.32" y="317.83" width="2.94" height="2.94" fill="#000"/>
<rect x="364.81" y="317.83" width="2.94" height="2.94" fill="#000"/>
<rect x="373.30" y="317.83" width="2.94" height="2.94" fill="#000"/>
<rect x="381.79" y="317.83" width="2.94" height="2.94" fill="#000"/>
<rect x="390.28" y="317.83" width="2.94" height="2.94" fill="#000"/>
<rect x="398.77" y="317.83" width="2.94" height="2.94" fill="#000"/>
<rect x="407.26" y="317.83" width="2.94" height="2.94" fill="#000"/>
<rect x="415.75" y="313.23" width="2.94" height="2.94" fill="#000"/>
<circle cx="264.40" cy="309.30" r="1.57" fill="#ff0000"/>
<circle cx="272.89" cy="309.30" r="1.57" fill="#ff0000"/>
<circle cx="281.38" cy="309.30" r="1.57" fill="#ff0000"/>
<circle cx="289.87" cy="309.30" r="1.57" fill="#ff0000"/>
<circle cx="298.36" cy="309.30" r="1.57" fill="#ff0000"/>
<circle cx="306.85" cy="309.30" r="1.57" fill="#ff0000"/>
<circle cx="315.34" cy="309.30" r="1.57" fill="#ff0000"/>
<circle cx="323.83" cy="309.30" r="1.57" fill="#ff0000"/>
<circle cx="332.32" cy="309.30" r="1.57" fill="#ff0000"/>
<circle cx="340.81" cy="319.30" r="1.57" fill="#ff0000"/>
<circle cx="349.30" cy="309.50" r="1.57" fill="#ff0000"/>
<circle cx="357.79" cy="309.50" r="1.57" fill="#ff0000"/>
<circle cx="366.28" cy="309.50" r="1.57" fill="#ff0000"/>
<circle cx="374.77" cy="309.50" r="1.57" fill="#ff0000"/>
<circle cx="383.26" cy="309.50" r="1.57" fill="#ff0000"/>
<circle cx="391.75" cy="309.50" r="1.57" fill="#ff0000"/>
<circle cx="400.24" cy="309.50" r="1.57" fill="#ff0000"/>
<circle cx="408.73" cy="309.50" r="1.57" fill="#ff0000"/>
<circle cx="417.22" cy="229.40" r="1.57" fill="#ff0000"/>
<path d="M264.40 310.70L266.49 314.22L262.31 314.22Z" fill="#0000ff"/>
<path d="M272.89 310.70L274.98 314.22L270.80 314.22Z" fill="#0000ff"/>
<path d="M281.38 256.30L283.47 259.81L279.29 259.81Z" fill="#0000ff"/>
<path d="M289.87 310.70L291.96 314.22L287.78 314.22Z" fill="#0000ff"/>
<path d="M298.36 310.70L300.45 314.22L296.27 314.22Z" fill="#0000ff"/>
<path d="M306.85 310.70L308.94 314.22L304.76 314.22Z" fill="#0000ff"/>
<path d="M315.34 314.60L317.43 318.12L313.25 318.12Z" fill="#0000ff"/>
<path d="M323.83 310.70L325.92 314.22L321.74 314.22Z" fill="#0000ff"/>
<path d="M332.32 310.70L334.41 314.22L330.23 314.22Z" fill="#0000ff"/>
<path d="M340.81 263.90L342.90 267.42L338.72 267.42Z" fill="#0000ff"/>
<path d="M349.30 310.20L351.39 313.72L347.21 313.72Z" fill="#0000ff"/>
<path d="M357.79 197.00L359.88 200.52L355.70 200.52Z" fill="#0000ff"/>
<path d="M366.28 300.60L368.37 304.12L364.19 304.12Z" fill="#0000ff"/>
<path d="M374.77 310.20L376.86 313.72L372.68 313.72Z" fill="#0000ff"/>
<path d="M383.26 310.20L385.35 313.72L381.17 313.72Z" fill="#0000ff"/>
<path d="M391.75 300.10L393.84 303.62L389.66 303.62Z" fill="#0000ff"/>
<path d="M400.24 310.20L402.33 313.72L398.15 313.72Z" fill="#0000ff"/>
<path d="M408.73 310.20L410.82 313.72L406.64 313.72Z" fill="#0000ff"/>
<path d="M417.22 259.90L419.31 263.42L415.13 263.42Z" fill="#0000ff"/>
<path d="M260.2 189.6V325.2H420.4" fill="none" stroke="#3a3a3a" stroke-width="0.8"/>
<path d="M257.2 320.00H260.2" stroke="#222" stroke-width="0.8"/>
<text x="256.5" y="322.40" text-anchor="end" font-family="'Liberation Serif', serif" font-size="7.0" fill="#111" class="t" textLength="8.40" lengthAdjust="spacingAndGlyphs">0.0</text>
<path d="M257.2 298.27H260.2" stroke="#222" stroke-width="0.8"/>
<text x="256.5" y="300.67" text-anchor="end" font-family="'Liberation Serif', serif" font-size="7.0" fill="#111" class="t" textLength="8.40" lengthAdjust="spacingAndGlyphs">0.5</text>
<path d="M257.2 276.53H260.2" stroke="#222" stroke-width="0.8"/>
<text x="256.5" y="278.93" text-anchor="end" font-family="'Liberation Serif', serif" font-size="7.0" fill="#111" class="t" textLength="8.40" lengthAdjust="spacingAndGlyphs">1.0</text>
<path d="M257.2 254.80H260.2" stroke="#222" stroke-width="0.8"/>
<text x="256.5" y="257.20" text-anchor="end" font-family="'Liberation Serif', serif" font-size="7.0" fill="#111" class="t" textLength="8.40" lengthAdjust="spacingAndGlyphs">1.5</text>
<path d="M257.2 233.07H260.2" stroke="#222" stroke-width="0.8"/>
<text x="256.5" y="235.47" text-anchor="end" font-family="'Liberation Serif', serif" font-size="7.0" fill="#111" class="t" textLength="8.40" lengthAdjust="spacingAndGlyphs">2.0</text>
<path d="M257.2 211.33H260.2" stroke="#222" stroke-width="0.8"/>
<text x="256.5" y="213.73" text-anchor="end" font-family="'Liberation Serif', serif" font-size="7.0" fill="#111" class="t" textLength="8.40" lengthAdjust="spacingAndGlyphs">2.5</text>
<path d="M257.2 189.60H260.2" stroke="#222" stroke-width="0.8"/>
<text x="256.5" y="192.00" text-anchor="end" font-family="'Liberation Serif', serif" font-size="7.0" fill="#111" class="t" textLength="8.40" lengthAdjust="spacingAndGlyphs">3.0</text>
<path d="M258.59999999999997 309.13H260.2" stroke="#222" stroke-width="0.7"/>
<path d="M258.59999999999997 287.40H260.2" stroke="#222" stroke-width="0.7"/>
<path d="M258.59999999999997 265.67H260.2" stroke="#222" stroke-width="0.7"/>
<path d="M258.59999999999997 243.93H260.2" stroke="#222" stroke-width="0.7"/>
<path d="M258.59999999999997 222.20H260.2" stroke="#222" stroke-width="0.7"/>
<path d="M258.59999999999997 200.47H260.2" stroke="#222" stroke-width="0.7"/>
<path d="M260.40 325.2V328.2" stroke="#222" stroke-width="0.8"/>
<text x="260.40" y="335" text-anchor="middle" font-family="'Liberation Serif', serif" font-size="6.3" fill="#222" class="t2">2015/7/12</text>
<path d="M294.20 325.2V328.2" stroke="#222" stroke-width="0.8"/>
<text x="294.20" y="335" text-anchor="middle" font-family="'Liberation Serif', serif" font-size="6.3" fill="#222" class="t2">2015/7/16</text>
<path d="M328.00 325.2V328.2" stroke="#222" stroke-width="0.8"/>
<text x="328.00" y="335" text-anchor="middle" font-family="'Liberation Serif', serif" font-size="6.3" fill="#222" class="t2">2015/7/20</text>
<path d="M361.80 325.2V328.2" stroke="#222" stroke-width="0.8"/>
<text x="361.80" y="335" text-anchor="middle" font-family="'Liberation Serif', serif" font-size="6.3" fill="#222" class="t2">2015/7/24</text>
<path d="M395.60 325.2V328.2" stroke="#222" stroke-width="0.8"/>
<text x="395.60" y="335" text-anchor="middle" font-family="'Liberation Serif', serif" font-size="6.3" fill="#222" class="t2">2015/7/28</text>
<path d="M277.30 325.2V326.9" stroke="#222" stroke-width="0.7"/>
<path d="M311.10 325.2V326.9" stroke="#222" stroke-width="0.7"/>
<path d="M344.90 325.2V326.9" stroke="#222" stroke-width="0.7"/>
<path d="M378.70 325.2V326.9" stroke="#222" stroke-width="0.7"/>
<path d="M412.50 325.2V326.9" stroke="#222" stroke-width="0.7"/>
<text x="343.1" y="345.9" text-anchor="middle" font-family="'Liberation Serif', serif" font-size="6.9" fill="#222" class="t2">Date</text>
<text transform="translate(245.1,256.4) rotate(-90)" text-anchor="middle" font-family="'Liberation Serif', serif" font-size="7.0" fill="#333" class="t3" textLength="48.5" lengthAdjust="spacingAndGlyphs">Relative error/%</text>
<path d="M266.4 191.5H281.7" stroke="#555" stroke-width="0.6"/>
<rect x="272.53" y="190.03" width="2.94" height="2.94" fill="#000"/>
<text x="283.6" y="193.8" font-family="'Liberation Serif', serif" font-size="7.67" fill="#111" class="t" textLength="18.54" lengthAdjust="spacingAndGlyphs">Mixed</text>
<path d="M266.4 200H281.7" stroke="#ff0000" stroke-width="0.5"/>
<circle cx="274.00" cy="200.00" r="1.57" fill="#ff0000"/>
<text x="283.6" y="202.3" font-family="'Liberation Serif', serif" font-size="7.67" fill="#111" class="t" textLength="26.03" lengthAdjust="spacingAndGlyphs">Gaussian</text>
<path d="M266.4 208.7H281.7" stroke="#0000ff" stroke-width="0.5"/>
<path d="M274.00 206.80L276.09 210.31L271.91 210.31Z" fill="#0000ff"/>
<text x="283.6" y="211.0" font-family="'Liberation Serif', serif" font-size="7.67" fill="#111" class="t" textLength="32.74" lengthAdjust="spacingAndGlyphs">Polynomial</text>
<text x="247.9" y="362.3" font-family="'Liberation Serif', serif" font-size="10.6" fill="#111" class="c" textLength="21.400000000000006" lengthAdjust="spacingAndGlyphs">(<tspan font-weight="bold">c–2</tspan>)</text>
<text x="271.7" y="362.3" font-family="'Liberation Serif', serif" font-size="10.6" fill="#111" class="c" textLength="139.90000000000003" lengthAdjust="spacingAndGlyphs">APE of predicted value of C<tspan font-size="5" dy="0.6">2</tspan><tspan dy="-0.6">H</tspan><tspan font-size="5" dy="0.6">6</tspan></text>
<polyline points="31.10,415.30 39.32,433.40 47.54,466.20 55.76,479.70 63.98,469.40 72.20,476.90 80.42,438.90 88.64,413.50 96.86,412.00 105.08,406.10 113.30,415.00 121.52,402.10 129.74,452.10 137.96,400.80 146.18,377.90 154.40,380.00 162.62,449.40 170.84,386.90 179.06,385.20 187.28,396.70" fill="none" stroke="#000" stroke-width="0.5" stroke-opacity="0.5"/>
<polyline points="31.10,417.50 39.32,431.70 47.54,463.80 55.76,477.50 63.98,466.60 72.20,474.70 80.42,441.00 88.64,415.30 96.86,414.20 105.08,408.30 113.30,417.10 121.52,404.20 129.74,449.40 137.96,403.10 146.18,380.20 154.40,381.70 162.62,447.30 170.84,389.40 179.06,387.50 187.28,392.70" fill="none" stroke="#ff0000" stroke-width="0.5" stroke-opacity="0.5"/>
<polyline points="31.10,409.80 39.32,427.90 47.54,460.70 55.76,474.20 63.98,468.80 72.20,471.00 80.42,444.10 88.64,417.90 96.86,408.70 105.08,410.90 113.30,420.20 121.52,407.30 129.74,446.30 137.96,406.30 146.18,383.30 154.40,384.20 162.62,443.80 170.84,392.10 179.06,382.10 187.28,386.30" fill="none" stroke="#0000ff" stroke-width="0.5" stroke-opacity="0.5"/>
<polyline points="31.10,409.20 39.32,432.30 47.54,438.20 55.76,452.40 63.98,475.30 72.20,465.10 80.42,483.00 88.64,407.00 96.86,406.10 105.08,415.70 113.30,439.00 121.52,438.30 129.74,445.20 137.96,395.20 146.18,384.20 154.40,385.80 162.62,443.10 170.84,392.50 179.06,379.00 187.28,383.30" fill="none" stroke="#ff00ff" stroke-width="0.5" stroke-opacity="0.5"/>
<rect x="29.55" y="413.75" width="3.10" height="3.10" fill="#000"/>
<rect x="37.77" y="431.85" width="3.10" height="3.10" fill="#000"/>
<rect x="45.99" y="464.65" width="3.10" height="3.10" fill="#000"/>
<rect x="54.21" y="478.15" width="3.10" height="3.10" fill="#000"/>
<rect x="62.43" y="467.85" width="3.10" height="3.10" fill="#000"/>
<rect x="70.65" y="475.35" width="3.10" height="3.10" fill="#000"/>
<rect x="78.87" y="437.35" width="3.10" height="3.10" fill="#000"/>
<rect x="87.09" y="411.95" width="3.10" height="3.10" fill="#000"/>
<rect x="95.31" y="410.45" width="3.10" height="3.10" fill="#000"/>
<rect x="103.53" y="404.55" width="3.10" height="3.10" fill="#000"/>
<rect x="111.75" y="413.45" width="3.10" height="3.10" fill="#000"/>
<rect x="119.97" y="400.55" width="3.10" height="3.10" fill="#000"/>
<rect x="128.19" y="450.55" width="3.10" height="3.10" fill="#000"/>
<rect x="136.41" y="399.25" width="3.10" height="3.10" fill="#000"/>
<rect x="144.63" y="376.35" width="3.10" height="3.10" fill="#000"/>
<rect x="152.85" y="378.45" width="3.10" height="3.10" fill="#000"/>
<rect x="161.07" y="447.85" width="3.10" height="3.10" fill="#000"/>
<rect x="169.29" y="385.35" width="3.10" height="3.10" fill="#000"/>
<rect x="177.51" y="383.65" width="3.10" height="3.10" fill="#000"/>
<rect x="185.73" y="395.15" width="3.10" height="3.10" fill="#000"/>
<circle cx="31.10" cy="417.50" r="1.65" fill="#ff0000"/>
<circle cx="39.32" cy="431.70" r="1.65" fill="#ff0000"/>
<circle cx="47.54" cy="463.80" r="1.65" fill="#ff0000"/>
<circle cx="55.76" cy="477.50" r="1.65" fill="#ff0000"/>
<circle cx="63.98" cy="466.60" r="1.65" fill="#ff0000"/>
<circle cx="72.20" cy="474.70" r="1.65" fill="#ff0000"/>
<circle cx="80.42" cy="441.00" r="1.65" fill="#ff0000"/>
<circle cx="88.64" cy="415.30" r="1.65" fill="#ff0000"/>
<circle cx="96.86" cy="414.20" r="1.65" fill="#ff0000"/>
<circle cx="105.08" cy="408.30" r="1.65" fill="#ff0000"/>
<circle cx="113.30" cy="417.10" r="1.65" fill="#ff0000"/>
<circle cx="121.52" cy="404.20" r="1.65" fill="#ff0000"/>
<circle cx="129.74" cy="449.40" r="1.65" fill="#ff0000"/>
<circle cx="137.96" cy="403.10" r="1.65" fill="#ff0000"/>
<circle cx="146.18" cy="380.20" r="1.65" fill="#ff0000"/>
<circle cx="154.40" cy="381.70" r="1.65" fill="#ff0000"/>
<circle cx="162.62" cy="447.30" r="1.65" fill="#ff0000"/>
<circle cx="170.84" cy="389.40" r="1.65" fill="#ff0000"/>
<circle cx="179.06" cy="387.50" r="1.65" fill="#ff0000"/>
<circle cx="187.28" cy="392.70" r="1.65" fill="#ff0000"/>
<path d="M31.10 407.80L33.30 411.50L28.90 411.50Z" fill="#0000ff"/>
<path d="M39.32 425.90L41.52 429.60L37.12 429.60Z" fill="#0000ff"/>
<path d="M47.54 458.70L49.74 462.40L45.34 462.40Z" fill="#0000ff"/>
<path d="M55.76 472.20L57.96 475.90L53.56 475.90Z" fill="#0000ff"/>
<path d="M63.98 466.80L66.18 470.50L61.78 470.50Z" fill="#0000ff"/>
<path d="M72.20 469.00L74.40 472.70L70.00 472.70Z" fill="#0000ff"/>
<path d="M80.42 442.10L82.62 445.80L78.22 445.80Z" fill="#0000ff"/>
<path d="M88.64 415.90L90.84 419.60L86.44 419.60Z" fill="#0000ff"/>
<path d="M96.86 406.70L99.06 410.40L94.66 410.40Z" fill="#0000ff"/>
<path d="M105.08 408.90L107.28 412.60L102.88 412.60Z" fill="#0000ff"/>
<path d="M113.30 418.20L115.50 421.90L111.10 421.90Z" fill="#0000ff"/>
<path d="M121.52 405.30L123.72 409.00L119.32 409.00Z" fill="#0000ff"/>
<path d="M129.74 444.30L131.94 448.00L127.54 448.00Z" fill="#0000ff"/>
<path d="M137.96 404.30L140.16 408.00L135.76 408.00Z" fill="#0000ff"/>
<path d="M146.18 381.30L148.38 385.00L143.98 385.00Z" fill="#0000ff"/>
<path d="M154.40 382.20L156.60 385.90L152.20 385.90Z" fill="#0000ff"/>
<path d="M162.62 441.80L164.82 445.50L160.42 445.50Z" fill="#0000ff"/>
<path d="M170.84 390.10L173.04 393.80L168.64 393.80Z" fill="#0000ff"/>
<path d="M179.06 380.10L181.26 383.80L176.86 383.80Z" fill="#0000ff"/>
<path d="M187.28 384.30L189.48 388.00L185.08 388.00Z" fill="#0000ff"/>
<path d="M31.10 411.20L33.30 407.50L28.90 407.50Z" fill="#ff00ff"/>
<path d="M39.32 434.30L41.52 430.60L37.12 430.60Z" fill="#ff00ff"/>
<path d="M47.54 440.20L49.74 436.50L45.34 436.50Z" fill="#ff00ff"/>
<path d="M55.76 454.40L57.96 450.70L53.56 450.70Z" fill="#ff00ff"/>
<path d="M63.98 477.30L66.18 473.60L61.78 473.60Z" fill="#ff00ff"/>
<path d="M72.20 467.10L74.40 463.40L70.00 463.40Z" fill="#ff00ff"/>
<path d="M80.42 485.00L82.62 481.30L78.22 481.30Z" fill="#ff00ff"/>
<path d="M88.64 409.00L90.84 405.30L86.44 405.30Z" fill="#ff00ff"/>
<path d="M96.86 408.10L99.06 404.40L94.66 404.40Z" fill="#ff00ff"/>
<path d="M105.08 417.70L107.28 414.00L102.88 414.00Z" fill="#ff00ff"/>
<path d="M113.30 441.00L115.50 437.30L111.10 437.30Z" fill="#ff00ff"/>
<path d="M121.52 440.30L123.72 436.60L119.32 436.60Z" fill="#ff00ff"/>
<path d="M129.74 447.20L131.94 443.50L127.54 443.50Z" fill="#ff00ff"/>
<path d="M137.96 397.20L140.16 393.50L135.76 393.50Z" fill="#ff00ff"/>
<path d="M146.18 386.20L148.38 382.50L143.98 382.50Z" fill="#ff00ff"/>
<path d="M154.40 387.80L156.60 384.10L152.20 384.10Z" fill="#ff00ff"/>
<path d="M162.62 445.10L164.82 441.40L160.42 441.40Z" fill="#ff00ff"/>
<path d="M170.84 394.50L173.04 390.80L168.64 390.80Z" fill="#ff00ff"/>
<path d="M179.06 381.00L181.26 377.30L176.86 377.30Z" fill="#ff00ff"/>
<path d="M187.28 385.30L189.48 381.60L185.08 381.60Z" fill="#ff00ff"/>
<path d="M27.4 372.4V506.4H191.6" fill="none" stroke="#3a3a3a" stroke-width="0.8"/>
<path d="M24.4 505.60H27.4" stroke="#222" stroke-width="0.8"/>
<text x="22.8" y="508.40" text-anchor="end" font-family="'Liberation Serif', serif" font-size="7.3" fill="#111" class="t" textLength="9.81" lengthAdjust="spacingAndGlyphs">160</text>
<path d="M24.4 483.40H27.4" stroke="#222" stroke-width="0.8"/>
<text x="22.8" y="486.20" text-anchor="end" font-family="'Liberation Serif', serif" font-size="7.3" fill="#111" class="t" textLength="9.81" lengthAdjust="spacingAndGlyphs">165</text>
<path d="M24.4 461.20H27.4" stroke="#222" stroke-width="0.8"/>
<text x="22.8" y="464.00" text-anchor="end" font-family="'Liberation Serif', serif" font-size="7.3" fill="#111" class="t" textLength="9.81" lengthAdjust="spacingAndGlyphs">170</text>
<path d="M24.4 439.00H27.4" stroke="#222" stroke-width="0.8"/>
<text x="22.8" y="441.80" text-anchor="end" font-family="'Liberation Serif', serif" font-size="7.3" fill="#111" class="t" textLength="9.81" lengthAdjust="spacingAndGlyphs">175</text>
<path d="M24.4 416.80H27.4" stroke="#222" stroke-width="0.8"/>
<text x="22.8" y="419.60" text-anchor="end" font-family="'Liberation Serif', serif" font-size="7.3" fill="#111" class="t" textLength="9.81" lengthAdjust="spacingAndGlyphs">180</text>
<path d="M24.4 394.60H27.4" stroke="#222" stroke-width="0.8"/>
<text x="22.8" y="397.40" text-anchor="end" font-family="'Liberation Serif', serif" font-size="7.3" fill="#111" class="t" textLength="9.81" lengthAdjust="spacingAndGlyphs">185</text>
<path d="M24.4 372.40H27.4" stroke="#222" stroke-width="0.8"/>
<text x="22.8" y="375.20" text-anchor="end" font-family="'Liberation Serif', serif" font-size="7.3" fill="#111" class="t" textLength="9.81" lengthAdjust="spacingAndGlyphs">190</text>
<path d="M25.799999999999997 494.50H27.4" stroke="#222" stroke-width="0.7"/>
<path d="M25.799999999999997 472.30H27.4" stroke="#222" stroke-width="0.7"/>
<path d="M25.799999999999997 450.10H27.4" stroke="#222" stroke-width="0.7"/>
<path d="M25.799999999999997 427.90H27.4" stroke="#222" stroke-width="0.7"/>
<path d="M25.799999999999997 405.70H27.4" stroke="#222" stroke-width="0.7"/>
<path d="M25.799999999999997 383.50H27.4" stroke="#222" stroke-width="0.7"/>
<path d="M27.30 506.4V509.4" stroke="#222" stroke-width="0.8"/>
<text x="27.30" y="516.2" text-anchor="middle" font-family="'Liberation Serif', serif" font-size="6.8" fill="#222" class="t2">2015/7/11</text>
<path d="M60.10 506.4V509.4" stroke="#222" stroke-width="0.8"/>
<text x="60.10" y="516.2" text-anchor="middle" font-family="'Liberation Serif', serif" font-size="6.8" fill="#222" class="t2">2015/7/15</text>
<path d="M92.90 506.4V509.4" stroke="#222" stroke-width="0.8"/>
<text x="92.90" y="516.2" text-anchor="middle" font-family="'Liberation Serif', serif" font-size="6.8" fill="#222" class="t2">2015/7/19</text>
<path d="M125.70 506.4V509.4" stroke="#222" stroke-width="0.8"/>
<text x="125.70" y="516.2" text-anchor="middle" font-family="'Liberation Serif', serif" font-size="6.8" fill="#222" class="t2">2015/7/23</text>
<path d="M158.50 506.4V509.4" stroke="#222" stroke-width="0.8"/>
<text x="158.50" y="516.2" text-anchor="middle" font-family="'Liberation Serif', serif" font-size="6.8" fill="#222" class="t2">2015/7/27</text>
<path d="M191.30 506.4V509.4" stroke="#222" stroke-width="0.8"/>
<text x="191.30" y="516.2" text-anchor="middle" font-family="'Liberation Serif', serif" font-size="6.8" fill="#222" class="t2">2015/7/31</text>
<path d="M43.70 506.4V508.09999999999997" stroke="#222" stroke-width="0.7"/>
<path d="M76.50 506.4V508.09999999999997" stroke="#222" stroke-width="0.7"/>
<path d="M109.30 506.4V508.09999999999997" stroke="#222" stroke-width="0.7"/>
<path d="M142.10 506.4V508.09999999999997" stroke="#222" stroke-width="0.7"/>
<path d="M174.90 506.4V508.09999999999997" stroke="#222" stroke-width="0.7"/>
<text x="109.5" y="527.7" text-anchor="middle" font-family="'Liberation Sans', sans-serif" font-size="6.6" fill="#222" class="t2">Date</text>
<text transform="translate(9.6,441) rotate(-90)" text-anchor="middle" font-family="'Liberation Serif', serif" font-size="7.0" fill="#333" class="t3" textLength="52.5" lengthAdjust="spacingAndGlyphs">Forecasting Value</text>
<path d="M29.6 373.9H45.4" stroke="#555" stroke-width="0.6"/>
<rect x="36.45" y="372.35" width="3.10" height="3.10" fill="#000"/>
<text x="47.2" y="376.29999999999995" font-family="'Liberation Serif', serif" font-size="7.56" fill="#111" class="t" textLength="18.66" lengthAdjust="spacingAndGlyphs">Actual</text>
<path d="M29.6 383H45.4" stroke="#ff0000" stroke-width="0.5"/>
<circle cx="38.00" cy="383.00" r="1.65" fill="#ff0000"/>
<text x="47.2" y="385.4" font-family="'Liberation Serif', serif" font-size="7.56" fill="#111" class="t" textLength="18.28" lengthAdjust="spacingAndGlyphs">Mixed</text>
<path d="M29.6 391.9H45.4" stroke="#0000ff" stroke-width="0.5"/>
<path d="M38.00 389.90L40.20 393.60L35.80 393.60Z" fill="#0000ff"/>
<text x="47.2" y="394.29999999999995" font-family="'Liberation Serif', serif" font-size="7.56" fill="#111" class="t" textLength="25.66" lengthAdjust="spacingAndGlyphs">Gaussian</text>
<path d="M29.6 400.2H45.4" stroke="#ff00ff" stroke-width="0.5"/>
<path d="M38.00 402.20L40.20 398.50L35.80 398.50Z" fill="#ff00ff"/>
<text x="47.2" y="402.59999999999997" font-family="'Liberation Serif', serif" font-size="7.56" fill="#111" class="t" textLength="32.28" lengthAdjust="spacingAndGlyphs">Polynomial</text>
<text x="39.9" y="544.8" font-family="'Liberation Serif', serif" font-size="10.6" fill="#111" class="c" textLength="21.800000000000004" lengthAdjust="spacingAndGlyphs">(<tspan font-weight="bold">d–1</tspan>)</text>
<text x="65" y="544.8" font-family="'Liberation Serif', serif" font-size="10.6" fill="#111" class="c" textLength="105.19999999999999" lengthAdjust="spacingAndGlyphs">predicted value of C<tspan font-size="5" dy="0.6">2</tspan><tspan dy="-0.6">H</tspan><tspan font-size="5" dy="0.6">4</tspan></text>
<polyline points="266.30,498.70 273.16,499.10 280.02,498.70 286.88,498.50 293.74,498.20 300.60,498.20 307.46,498.70 314.32,499.10 321.18,499.10 328.04,498.90 334.90,498.90 341.76,498.90 348.62,498.90 355.48,498.90 362.34,498.90 369.20,498.90 376.06,498.90 382.92,498.90 389.78,498.90 396.64,495.20" fill="none" stroke="#000" stroke-width="0.5" stroke-opacity="0.5"/>
<polyline points="266.30,491.10 273.16,490.40 280.02,489.70 286.88,489.20 293.74,503.90 300.60,489.70 307.46,490.40 314.32,490.90 321.18,490.90 328.04,490.80 334.90,490.80 341.76,490.80 348.62,490.30 355.48,491.30 362.34,491.30 369.20,491.30 376.06,490.00 382.92,491.50 389.78,496.60 396.64,479.30" fill="none" stroke="#ff0000" stroke-width="0.5" stroke-opacity="0.5"/>
<polyline points="266.30,489.20 273.16,501.70 280.02,423.80 286.88,427.30 293.74,487.60 300.60,470.30 307.46,386.00 314.32,489.20 321.18,489.20 328.04,479.30 334.90,440.70 341.76,409.90 348.62,488.70 355.48,489.00 362.34,489.00 369.20,489.50 376.06,488.20 382.92,489.50 389.78,489.50 396.64,469.20" fill="none" stroke="#0000ff" stroke-width="0.5" stroke-opacity="0.5"/>
<rect x="264.83" y="497.23" width="2.94" height="2.94" fill="#000"/>
<rect x="271.69" y="497.63" width="2.94" height="2.94" fill="#000"/>
<rect x="278.55" y="497.23" width="2.94" height="2.94" fill="#000"/>
<rect x="285.41" y="497.03" width="2.94" height="2.94" fill="#000"/>
<rect x="292.27" y="496.73" width="2.94" height="2.94" fill="#000"/>
<rect x="299.13" y="496.73" width="2.94" height="2.94" fill="#000"/>
<rect x="305.99" y="497.23" width="2.94" height="2.94" fill="#000"/>
<rect x="312.85" y="497.63" width="2.94" height="2.94" fill="#000"/>
<rect x="319.71" y="497.63" width="2.94" height="2.94" fill="#000"/>
<rect x="326.57" y="497.43" width="2.94" height="2.94" fill="#000"/>
<rect x="333.43" y="497.43" width="2.94" height="2.94" fill="#000"/>
<rect x="340.29" y="497.43" width="2.94" height="2.94" fill="#000"/>
<rect x="347.15" y="497.43" width="2.94" height="2.94" fill="#000"/>
<rect x="354.01" y="497.43" width="2.94" height="2.94" fill="#000"/>
<rect x="360.87" y="497.43" width="2.94" height="2.94" fill="#000"/>
<rect x="367.73" y="497.43" width="2.94" height="2.94" fill="#000"/>
<rect x="374.59" y="497.43" width="2.94" height="2.94" fill="#000"/>
<rect x="381.45" y="497.43" width="2.94" height="2.94" fill="#000"/>
<rect x="388.31" y="497.43" width="2.94" height="2.94" fill="#000"/>
<rect x="395.17" y="493.73" width="2.94" height="2.94" fill="#000"/>
<circle cx="266.30" cy="491.10" r="1.57" fill="#ff0000"/>
<circle cx="273.16" cy="490.40" r="1.57" fill="#ff0000"/>
<circle cx="280.02" cy="489.70" r="1.57" fill="#ff0000"/>
<circle cx="286.88" cy="489.20" r="1.57" fill="#ff0000"/>
<circle cx="293.74" cy="503.90" r="1.57" fill="#ff0000"/>
<circle cx="300.60" cy="489.70" r="1.57" fill="#ff0000"/>
<circle cx="307.46" cy="490.40" r="1.57" fill="#ff0000"/>
<circle cx="314.32" cy="490.90" r="1.57" fill="#ff0000"/>
<circle cx="321.18" cy="490.90" r="1.57" fill="#ff0000"/>
<circle cx="328.04" cy="490.80" r="1.57" fill="#ff0000"/>
<circle cx="334.90" cy="490.80" r="1.57" fill="#ff0000"/>
<circle cx="341.76" cy="490.80" r="1.57" fill="#ff0000"/>
<circle cx="348.62" cy="490.30" r="1.57" fill="#ff0000"/>
<circle cx="355.48" cy="491.30" r="1.57" fill="#ff0000"/>
<circle cx="362.34" cy="491.30" r="1.57" fill="#ff0000"/>
<circle cx="369.20" cy="491.30" r="1.57" fill="#ff0000"/>
<circle cx="376.06" cy="490.00" r="1.57" fill="#ff0000"/>
<circle cx="382.92" cy="491.50" r="1.57" fill="#ff0000"/>
<circle cx="389.78" cy="496.60" r="1.57" fill="#ff0000"/>
<circle cx="396.64" cy="479.30" r="1.57" fill="#ff0000"/>
<path d="M266.30 487.30L268.39 490.81L264.21 490.81Z" fill="#0000ff"/>
<path d="M273.16 499.80L275.25 503.31L271.07 503.31Z" fill="#0000ff"/>
<path d="M280.02 421.90L282.11 425.42L277.93 425.42Z" fill="#0000ff"/>
<path d="M286.88 425.40L288.97 428.92L284.79 428.92Z" fill="#0000ff"/>
<path d="M293.74 485.70L295.83 489.22L291.65 489.22Z" fill="#0000ff"/>
<path d="M300.60 468.40L302.69 471.92L298.51 471.92Z" fill="#0000ff"/>
<path d="M307.46 384.10L309.55 387.62L305.37 387.62Z" fill="#0000ff"/>
<path d="M314.32 487.30L316.41 490.81L312.23 490.81Z" fill="#0000ff"/>
<path d="M321.18 487.30L323.27 490.81L319.09 490.81Z" fill="#0000ff"/>
<path d="M328.04 477.40L330.13 480.92L325.95 480.92Z" fill="#0000ff"/>
<path d="M334.90 438.80L336.99 442.31L332.81 442.31Z" fill="#0000ff"/>
<path d="M341.76 408.00L343.85 411.51L339.67 411.51Z" fill="#0000ff"/>
<path d="M348.62 486.80L350.71 490.31L346.53 490.31Z" fill="#0000ff"/>
<path d="M355.48 487.10L357.57 490.62L353.39 490.62Z" fill="#0000ff"/>
<path d="M362.34 487.10L364.43 490.62L360.25 490.62Z" fill="#0000ff"/>
<path d="M369.20 487.60L371.29 491.12L367.11 491.12Z" fill="#0000ff"/>
<path d="M376.06 486.30L378.15 489.81L373.97 489.81Z" fill="#0000ff"/>
<path d="M382.92 487.60L385.01 491.12L380.83 491.12Z" fill="#0000ff"/>
<path d="M389.78 487.60L391.87 491.12L387.69 491.12Z" fill="#0000ff"/>
<path d="M396.64 467.30L398.73 470.81L394.55 470.81Z" fill="#0000ff"/>
<path d="M249.3 378V507.5H413.9" fill="none" stroke="#3a3a3a" stroke-width="0.8"/>
<path d="M246.3 505.80H249.3" stroke="#222" stroke-width="0.8"/>
<text x="245.8" y="508.30" text-anchor="end" font-family="'Liberation Serif', serif" font-size="7.3" fill="#111" class="t" textLength="3.40" lengthAdjust="spacingAndGlyphs">0</text>
<path d="M246.3 484.50H249.3" stroke="#222" stroke-width="0.8"/>
<text x="245.8" y="487.00" text-anchor="end" font-family="'Liberation Serif', serif" font-size="7.3" fill="#111" class="t" textLength="3.40" lengthAdjust="spacingAndGlyphs">1</text>
<path d="M246.3 463.20H249.3" stroke="#222" stroke-width="0.8"/>
<text x="245.8" y="465.70" text-anchor="end" font-family="'Liberation Serif', serif" font-size="7.3" fill="#111" class="t" textLength="3.40" lengthAdjust="spacingAndGlyphs">2</text>
<path d="M246.3 441.90H249.3" stroke="#222" stroke-width="0.8"/>
<text x="245.8" y="444.40" text-anchor="end" font-family="'Liberation Serif', serif" font-size="7.3" fill="#111" class="t" textLength="3.40" lengthAdjust="spacingAndGlyphs">3</text>
<path d="M246.3 420.60H249.3" stroke="#222" stroke-width="0.8"/>
<text x="245.8" y="423.10" text-anchor="end" font-family="'Liberation Serif', serif" font-size="7.3" fill="#111" class="t" textLength="3.40" lengthAdjust="spacingAndGlyphs">4</text>
<path d="M246.3 399.30H249.3" stroke="#222" stroke-width="0.8"/>
<text x="245.8" y="401.80" text-anchor="end" font-family="'Liberation Serif', serif" font-size="7.3" fill="#111" class="t" textLength="3.40" lengthAdjust="spacingAndGlyphs">5</text>
<path d="M246.3 378.00H249.3" stroke="#222" stroke-width="0.8"/>
<text x="245.8" y="380.50" text-anchor="end" font-family="'Liberation Serif', serif" font-size="7.3" fill="#111" class="t" textLength="3.40" lengthAdjust="spacingAndGlyphs">6</text>
<path d="M247.70000000000002 495.15H249.3" stroke="#222" stroke-width="0.7"/>
<path d="M247.70000000000002 473.85H249.3" stroke="#222" stroke-width="0.7"/>
<path d="M247.70000000000002 452.55H249.3" stroke="#222" stroke-width="0.7"/>
<path d="M247.70000000000002 431.25H249.3" stroke="#222" stroke-width="0.7"/>
<path d="M247.70000000000002 409.95H249.3" stroke="#222" stroke-width="0.7"/>
<path d="M247.70000000000002 388.65H249.3" stroke="#222" stroke-width="0.7"/>
<path d="M249.40 507.5V510.5" stroke="#222" stroke-width="0.8"/>
<text x="249.40" y="517.8" text-anchor="middle" font-family="'Liberation Serif', serif" font-size="6.6" fill="#222" class="t2">2015/7/9</text>
<path d="M290.60 507.5V510.5" stroke="#222" stroke-width="0.8"/>
<text x="290.60" y="517.8" text-anchor="middle" font-family="'Liberation Serif', serif" font-size="6.6" fill="#222" class="t2">2015/7/15</text>
<path d="M331.80 507.5V510.5" stroke="#222" stroke-width="0.8"/>
<text x="331.80" y="517.8" text-anchor="middle" font-family="'Liberation Serif', serif" font-size="6.6" fill="#222" class="t2">2015/7/21</text>
<path d="M373.00 507.5V510.5" stroke="#222" stroke-width="0.8"/>
<text x="373.00" y="517.8" text-anchor="middle" font-family="'Liberation Serif', serif" font-size="6.6" fill="#222" class="t2">2015/7/27</text>
<path d="M414.20 507.5V510.5" stroke="#222" stroke-width="0.8"/>
<text x="414.20" y="517.8" text-anchor="middle" font-family="'Liberation Serif', serif" font-size="6.6" fill="#222" class="t2">2015/8/2</text>
<path d="M270.00 507.5V509.2" stroke="#222" stroke-width="0.7"/>
<path d="M311.20 507.5V509.2" stroke="#222" stroke-width="0.7"/>
<path d="M352.40 507.5V509.2" stroke="#222" stroke-width="0.7"/>
<path d="M393.60 507.5V509.2" stroke="#222" stroke-width="0.7"/>
<text x="331.3" y="528.4" text-anchor="middle" font-family="'Liberation Serif', serif" font-size="6.9" fill="#222" class="t2">Date</text>
<text transform="translate(238.6,442.2) rotate(-90)" text-anchor="middle" font-family="'Liberation Serif', serif" font-size="7.0" fill="#333" class="t3" textLength="46.5" lengthAdjust="spacingAndGlyphs">Relative error/%</text>
<path d="M253 371.5H267.9" stroke="#555" stroke-width="0.6"/>
<rect x="258.93" y="370.03" width="2.94" height="2.94" fill="#000"/>
<text x="269.7" y="373.8" font-family="'Liberation Serif', serif" font-size="7.56" fill="#111" class="t" textLength="18.28" lengthAdjust="spacingAndGlyphs">Mixed</text>
<path d="M253 379.4H267.9" stroke="#ff0000" stroke-width="0.5"/>
<circle cx="260.40" cy="379.40" r="1.57" fill="#ff0000"/>
<text x="269.7" y="381.7" font-family="'Liberation Serif', serif" font-size="7.56" fill="#111" class="t" textLength="25.66" lengthAdjust="spacingAndGlyphs">Gaussian</text>
<path d="M253 388.1H267.9" stroke="#0000ff" stroke-width="0.5"/>
<path d="M260.40 386.20L262.49 389.72L258.31 389.72Z" fill="#0000ff"/>
<text x="269.7" y="390.40000000000003" font-family="'Liberation Serif', serif" font-size="7.56" fill="#111" class="t" textLength="32.28" lengthAdjust="spacingAndGlyphs">Polynomial</text>
<text x="246.9" y="544.7" font-family="'Liberation Serif', serif" font-size="10.6" fill="#111" class="c" textLength="22.400000000000006" lengthAdjust="spacingAndGlyphs">(<tspan font-weight="bold">d–2</tspan>)</text>
<text x="271.7" y="544.7" font-family="'Liberation Serif', serif" font-size="10.6" fill="#111" class="c" textLength="139.90000000000003" lengthAdjust="spacingAndGlyphs">APE of predicted value of C<tspan font-size="5" dy="0.6">2</tspan><tspan dy="-0.6">H</tspan><tspan font-size="5" dy="0.6">4</tspan></text>
</svg>
</body></html>
